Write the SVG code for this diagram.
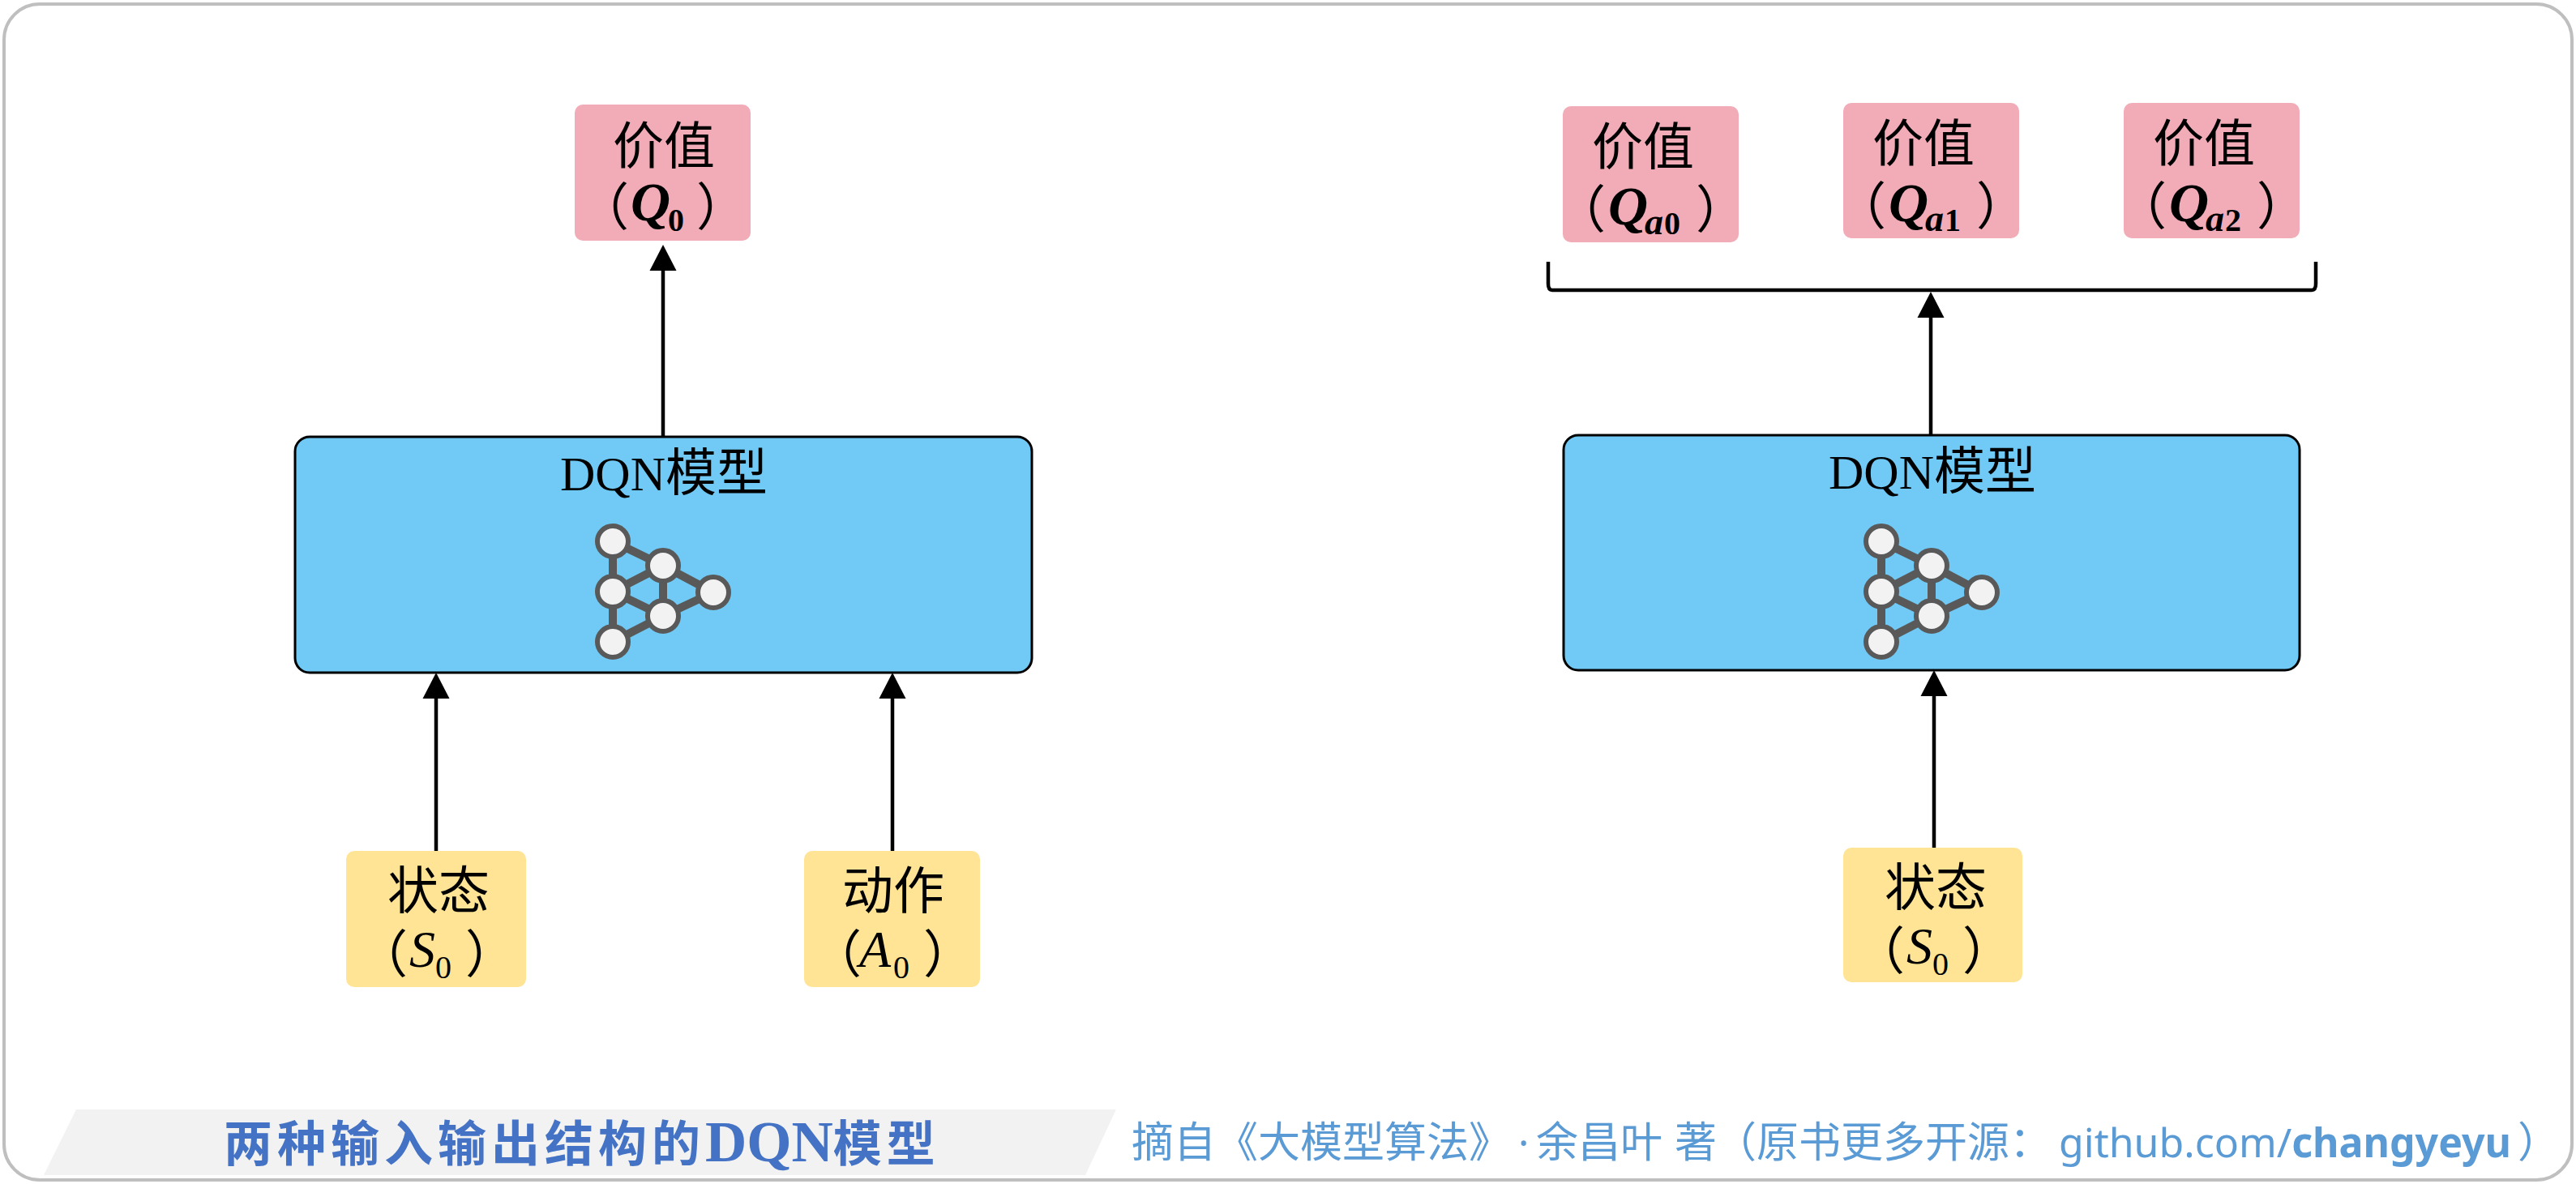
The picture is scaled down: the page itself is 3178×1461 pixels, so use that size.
<svg xmlns="http://www.w3.org/2000/svg" width="3178" height="1461" viewBox="0 0 3178 1461">
<style>
text{font-family:"Liberation Serif","Noto Sans CJK SC",serif;fill:#000;font-size:64px}
.cjk{font-family:"Noto Sans CJK SC",sans-serif;font-size:63px}
.bi{font-weight:700;font-style:italic;font-size:68px}
.b{font-weight:700}
.i{font-style:italic}
.sub{font-size:40px}
.suba{font-size:46px}
.lat{font-size:60px}
.pink{fill:#f1acb8}
.yellow{fill:#ffe496}
.model{fill:#70caf5;stroke:#000;stroke-width:3}
.conn{stroke:#000;stroke-width:4.5;fill:none}
.arrow{marker-end:url(#tri)}
.e{stroke:#595959;stroke-width:10;fill:none}
.n{fill:#f2f2f2;stroke:#595959;stroke-width:6}
.title{font-size:60px;font-weight:700;fill:#4472c4}
.title .cjk{font-size:60px;letter-spacing:6px}
.title .lat{font-size:71px}
.src{font-family:"Noto Sans","Noto Sans CJK SC",sans-serif;font-size:50px;fill:#5b9bd5}
.src .c{font-size:52px}
</style>
<defs>
<marker id="tri" markerUnits="userSpaceOnUse" markerWidth="32" markerHeight="34" refX="0" refY="17" orient="auto"><path d="M0 0.5L32 17L0 33.5Z" fill="#000"/></marker>
<g id="net">
<path class="e" d="M756 668V792M756 668L818 698M756 730L818 698M756 730L818 760M756 792L818 760M818 698V760M818 698L880 731M818 760L880 731"/>
<circle class="n" cx="756" cy="668" r="19"/><circle class="n" cx="756" cy="730" r="19"/><circle class="n" cx="756" cy="792" r="19"/><circle class="n" cx="818" cy="698" r="19"/><circle class="n" cx="818" cy="760" r="19"/><circle class="n" cx="880" cy="731" r="19"/>
</g>
</defs>
<rect id="frame" x="5" y="5" width="3168" height="1451" rx="44" fill="#fff" stroke="#bfbfbf" stroke-width="4"/>
<g id="connectors">
<line class="conn arrow" x1="818" y1="538" x2="818" y2="334"/>
<line class="conn arrow" x1="538" y1="1050" x2="538" y2="862"/>
<line class="conn arrow" x1="1101" y1="1050" x2="1101" y2="862"/>
<line class="conn arrow" x1="2382" y1="537" x2="2382" y2="392"/>
<line class="conn arrow" x1="2386" y1="1046" x2="2386" y2="859"/>
<path class="conn" d="M1910 323V350Q1910 358 1915 358H2852Q2857 358 2857 350V323"/>
</g>
<g id="value-left">
<rect class="pink" x="709" y="129" width="217" height="168" rx="10"/>
<text class="cjk" x="756" y="202">价值</text>
<text y="277"><tspan class="cjk" x="713">（</tspan><tspan class="bi" x="778" y="272">Q</tspan><tspan class="b sub" x="824" y="285">0</tspan><tspan class="cjk" x="859" y="277">）</tspan></text>
</g>
<g id="model-left">
<rect class="model" x="364" y="539" width="909" height="291" rx="18"/>
<text x="691" y="605"><tspan class="lat">DQN</tspan><tspan class="cjk">模型</tspan></text>
<use href="#net"/>
</g>
<g id="state-left">
<rect class="yellow" x="427" y="1050" width="222" height="168" rx="10"/>
<text class="cjk" x="478" y="1121">状态</text>
<text y="1199"><tspan class="cjk" x="440">（</tspan><tspan class="i" x="505" y="1193">S</tspan><tspan class="sub" x="537" y="1207">0</tspan><tspan class="cjk" x="574" y="1199">）</tspan></text>
</g>
<g id="action-left">
<rect class="yellow" x="992" y="1050" width="217" height="168" rx="10"/>
<text class="cjk" x="1039" y="1121">动作</text>
<text y="1199"><tspan class="cjk" x="1000">（</tspan><tspan class="i" x="1060" y="1193">A</tspan><tspan class="sub" x="1102" y="1207">0</tspan><tspan class="cjk" x="1139" y="1199">）</tspan></text>
</g>
<g id="value-a0">
<rect class="pink" x="1928" y="131" width="217" height="168" rx="10"/>
<text class="cjk" x="1964" y="203">价值</text>
<text y="280"><tspan class="cjk" x="1918">（</tspan><tspan class="bi" x="1984" y="277">Q</tspan><tspan class="bi suba" x="2029" y="289">a</tspan><tspan class="b sub" x="2053" y="289">0</tspan><tspan class="cjk" x="2092" y="280">）</tspan></text>
</g>
<g id="value-a1">
<rect class="pink" x="2274" y="127" width="217" height="167" rx="10"/>
<text class="cjk" x="2310" y="199">价值</text>
<text y="276"><tspan class="cjk" x="2264">（</tspan><tspan class="bi" x="2330" y="273">Q</tspan><tspan class="bi suba" x="2375" y="285">a</tspan><tspan class="b sub" x="2399" y="285">1</tspan><tspan class="cjk" x="2438" y="276">）</tspan></text>
</g>
<g id="value-a2">
<rect class="pink" x="2620" y="127" width="217" height="167" rx="10"/>
<text class="cjk" x="2656" y="199">价值</text>
<text y="276"><tspan class="cjk" x="2610">（</tspan><tspan class="bi" x="2676" y="273">Q</tspan><tspan class="bi suba" x="2721" y="285">a</tspan><tspan class="b sub" x="2745" y="285">2</tspan><tspan class="cjk" x="2784" y="276">）</tspan></text>
</g>
<g id="model-right">
<rect class="model" x="1929" y="537" width="908" height="290" rx="18"/>
<text x="2256" y="603"><tspan class="lat">DQN</tspan><tspan class="cjk">模型</tspan></text>
<use href="#net" transform="translate(1565 0)"/>
</g>
<g id="state-right">
<rect class="yellow" x="2274" y="1046" width="221" height="166" rx="10"/>
<text class="cjk" x="2325" y="1117">状态</text>
<text y="1195"><tspan class="cjk" x="2287">（</tspan><tspan class="i" x="2352" y="1189">S</tspan><tspan class="sub" x="2384" y="1203">0</tspan><tspan class="cjk" x="2421" y="1195">）</tspan></text>
</g>
<g id="footer">
<path d="M94 1369H1377L1339 1450H54Z" fill="#f2f2f2"/>
<text class="title" x="276" y="1433"><tspan class="cjk">两种输入输出结构的</tspan><tspan class="lat">DQN</tspan><tspan class="cjk">模型</tspan></text>
<text class="src" y="1428"><tspan class="c" x="1396">摘自《大模型算法》</tspan><tspan x="1873">·</tspan><tspan class="c" x="1895">余昌叶</tspan><tspan class="c" x="2066">著</tspan><tspan class="c" x="2115">（原书更多开源：</tspan><tspan x="2540">github.com/</tspan><tspan class="b">changyeyu</tspan><tspan class="c" x="3106">）</tspan></text>
</g>
</svg>
